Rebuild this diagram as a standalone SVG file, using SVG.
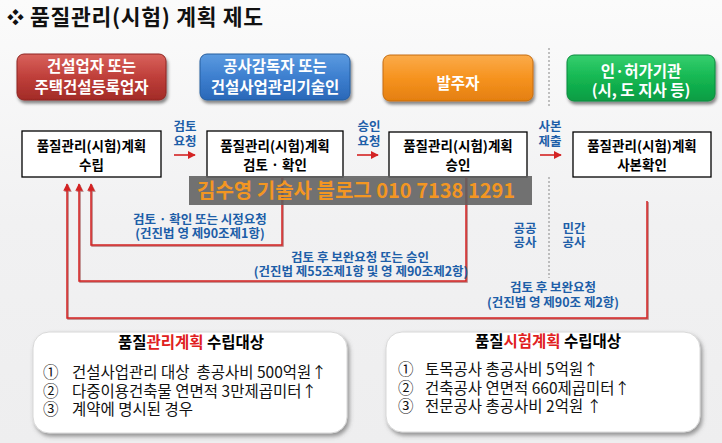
<svg xmlns="http://www.w3.org/2000/svg" width="722" height="443" viewBox="0 0 722 443">
<defs>
<linearGradient id="bg" x1="0" y1="0" x2="0" y2="1"><stop offset="0" stop-color="#fbfbfb"/><stop offset="0.5" stop-color="#f1f1f2"/><stop offset="1" stop-color="#eeeeef"/></linearGradient>
<linearGradient id="gRed" x1="0" y1="0" x2="0" y2="1"><stop offset="0" stop-color="#d9625c"/><stop offset="0.5" stop-color="#bf3f3a"/><stop offset="1" stop-color="#a22b27"/></linearGradient>
<linearGradient id="gBlue" x1="0" y1="0" x2="0" y2="1"><stop offset="0" stop-color="#5c9be0"/><stop offset="0.5" stop-color="#3d7fcf"/><stop offset="1" stop-color="#2a68b8"/></linearGradient>
<linearGradient id="gOrange" x1="0" y1="0" x2="0" y2="1"><stop offset="0" stop-color="#fbab4a"/><stop offset="0.5" stop-color="#f6931f"/><stop offset="1" stop-color="#e47f10"/></linearGradient>
<linearGradient id="gGreen" x1="0" y1="0" x2="0" y2="1"><stop offset="0" stop-color="#37cf6e"/><stop offset="0.5" stop-color="#14b752"/><stop offset="1" stop-color="#0a9c43"/></linearGradient>
<filter id="sh" x="-10%" y="-10%" width="125%" height="140%"><feDropShadow dx="1.5" dy="3" stdDeviation="1.8" flood-color="#000" flood-opacity="0.45"/></filter>
<filter id="sh2" x="-10%" y="-10%" width="125%" height="130%"><feDropShadow dx="2" dy="3" stdDeviation="2" flood-color="#555" flood-opacity="0.6"/></filter>
<filter id="lsh" x="-5%" y="-5%" width="110%" height="110%"><feDropShadow dx="1" dy="1" stdDeviation="0.6" flood-color="#700" flood-opacity="0.5"/></filter>
<marker id="ar" viewBox="0 0 10 10" refX="9" refY="5" markerWidth="5" markerHeight="5" orient="auto"><path d="M0,0 L10,5 L0,10 z" fill="#d42424"/></marker>
<style>
text{font-family:"Noto Sans CJK KR","Malgun Gothic",sans-serif}
.hdr{fill:#fff;font-size:15.5px;font-weight:bold;text-anchor:middle}
.box{fill:#fff;stroke:#000;stroke-width:1.3}
.bt{fill:#000;font-size:13.5px;font-weight:bold;text-anchor:middle}
.lb{fill:#1d5ea8;font-size:12.5px;font-weight:bold;text-anchor:middle}
.rl{fill:none;stroke:#d42424;stroke-width:1.5;filter:url(#lsh)}
.it{fill:#111;font-size:15.5px}
.tt{fill:#000;font-size:15.5px;font-weight:bold;text-anchor:middle}
</style>
</defs>
<rect width="722" height="443" fill="url(#bg)"/>
<text x="7" y="24" font-size="17" fill="#111">❖</text>
<text x="30" y="25" font-size="21.5" font-weight="bold" fill="#111" textLength="233">품질관리(시험) 계획 제도</text>

<line x1="549" y1="48" x2="549" y2="106" stroke="#9a9a9a" stroke-width="1.2" stroke-dasharray="2,2"/>
<line x1="549" y1="177" x2="549" y2="278" stroke="#9a9a9a" stroke-width="1.2" stroke-dasharray="2,2"/>

<g id="h1"><rect x="17" y="54" width="149" height="46" rx="7" fill="url(#gRed)" stroke="#8e2622" filter="url(#sh)"/><text class="hdr" x="91.5" y="72">건설업자 또는</text><text class="hdr" x="91.5" y="93">주택건설등록업자</text></g>
<g id="h2"><rect x="200" y="54" width="150" height="46" rx="7" fill="url(#gBlue)" stroke="#255c9e" filter="url(#sh)"/><text class="hdr" x="275" y="72">공사감독자 또는</text><text class="hdr" x="275" y="93">건설사업관리기술인</text></g>
<g id="h3"><rect x="383" y="55" width="150" height="46" rx="7" fill="url(#gOrange)" stroke="#c56d10" filter="url(#sh)"/><text class="hdr" x="458" y="89">발주자</text></g>
<g id="h4"><rect x="567" y="55" width="148" height="46" rx="7" fill="url(#gGreen)" stroke="#0a8a3c" filter="url(#sh)"/><text class="hdr" x="641" y="77">인·허가기관</text><text class="hdr" x="641" y="96">(시, 도 지사 등)</text></g>

<g id="b1"><rect class="box" x="22" y="131" width="139" height="46"/><text class="bt" x="91.5" y="151">품질관리(시험)계획</text><text class="bt" x="91.5" y="170">수립</text></g>
<g id="b2"><rect class="box" x="207" y="131" width="136" height="46"/><text class="bt" x="275" y="151">품질관리(시험)계획</text><text class="bt" x="275" y="170">검토 · 확인</text></g>
<g id="b3"><rect class="box" x="389" y="132" width="138" height="45"/><text class="bt" x="458" y="151">품질관리(시험)계획</text><text class="bt" x="458" y="170">승인</text></g>
<g id="b4"><rect class="box" x="573" y="132" width="138" height="45"/><text class="bt" x="642" y="151">품질관리(시험)계획</text><text class="bt" x="642" y="170">사본확인</text></g>

<g id="connectors">
<line x1="174" y1="155" x2="195" y2="155" stroke="#d42424" stroke-width="1.6" marker-end="url(#ar)"/>
<line x1="357" y1="155" x2="378" y2="155" stroke="#d42424" stroke-width="1.6" marker-end="url(#ar)"/>
<line x1="540" y1="155" x2="561" y2="155" stroke="#d42424" stroke-width="1.6" marker-end="url(#ar)"/>
<polyline class="rl" points="282,177 282,245 91,245 91,184" marker-end="url(#ar)"/>
<polyline class="rl" points="466,177 466,281 79,281 79,184" marker-end="url(#ar)"/>
<polyline class="rl" points="647,201 647,318 67,318 67,184" marker-end="url(#ar)"/>
<text class="lb" x="185" y="131">검토</text><text class="lb" x="185" y="146">요청</text>
<text class="lb" x="369" y="131">승인</text><text class="lb" x="369" y="146">요청</text>
<text class="lb" x="550" y="131">사본</text><text class="lb" x="550" y="146">제출</text>
<text class="lb" x="200" y="224">검토 · 확인 또는 시정요청</text><text class="lb" x="200" y="238">(건진법 영 제90조제1항)</text>
<text class="lb" x="360" y="262">검토 후 보완요청 또는 승인</text><text class="lb" x="361" y="276">(건진법 제55조제1항 및 영 제90조제2항)</text>
<text class="lb" x="525" y="233">공공</text><text class="lb" x="525" y="247">공사</text>
<text class="lb" x="574" y="233">민간</text><text class="lb" x="574" y="247">공사</text>
<text class="lb" x="553" y="292">검토 후 보완요청</text><text class="lb" x="553" y="307">(건진법 영 제90조 제2항)</text>
</g>

<rect x="189" y="176" width="343" height="29" fill="#5f5f5f" opacity="0.88"/>
<text x="197" y="198" font-size="20" font-weight="bold" fill="#f39622">김수영 기술사 블로그 010 7138 1291</text>

<g id="t1"><rect x="33" y="332" width="314" height="101" rx="16" fill="#fff" stroke="#d8d8d8" filter="url(#sh2)"/>
<text class="tt" x="191" y="348">품질<tspan fill="#e02020">관리계획</tspan> 수립대상</text>
<text class="it" x="43" y="378">①</text><text class="it" x="72" y="378" xml:space="preserve">건설사업관리 대상  총공사비 500억원↑</text>
<text class="it" x="43" y="397">②</text><text class="it" x="72" y="397">다중이용건축물 연면적 3만제곱미터↑</text>
<text class="it" x="43" y="415">③</text><text class="it" x="72" y="415">계약에 명시된 경우</text>
</g>
<g id="t2"><rect x="386" y="332" width="314" height="100" rx="16" fill="#fff" stroke="#d8d8d8" filter="url(#sh2)"/>
<text class="tt" x="548" y="347">품질<tspan fill="#e02020">시험계획</tspan> 수립대상</text>
<text class="it" x="398" y="375">①</text><text class="it" x="425" y="375">토목공사 총공사비 5억원↑</text>
<text class="it" x="398" y="394">②</text><text class="it" x="425" y="394">건축공사 연면적 660제곱미터↑</text>
<text class="it" x="398" y="412">③</text><text class="it" x="425" y="412">전문공사 총공사비 2억원 ↑</text>
</g>
</svg>
